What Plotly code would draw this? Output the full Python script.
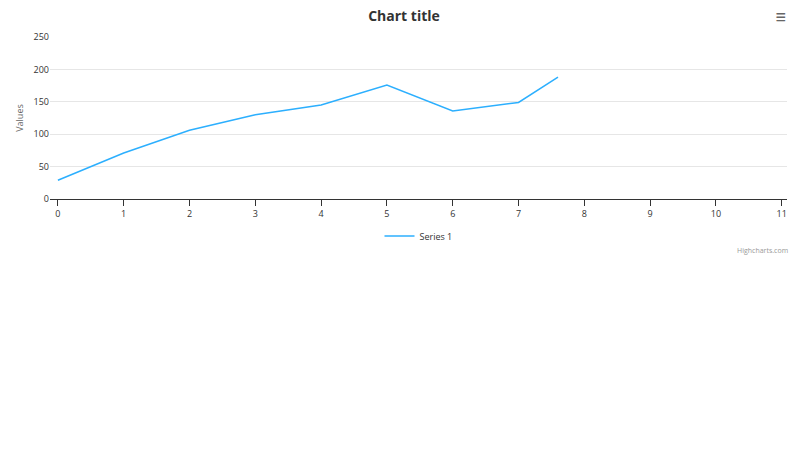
import plotly.graph_objects as go

x_vals = [0, 1, 2, 3, 4, 5, 6, 7, 7.6]
y_vals = [29, 71, 106, 130, 145, 176, 136, 149, 188]
x_ticks = list(range(0, 12))
y_ticks = [0, 50, 100, 150, 200, 250]

# page has 8px body margin; figure origin at (8,8)
fig = go.Figure()
fig.add_trace(go.Scatter(x=x_vals, y=y_vals, mode="lines", name="Series 1",
                         line=dict(color="#2caffe", width=1.5)))
fig.update_layout(
    width=792, height=442, paper_bgcolor="white", plot_bgcolor="white",
    margin=dict(l=42, r=13, t=29, b=251),
    font=dict(family="Open Sans, Lato, sans-serif", size=10, color="#333"),
    title=dict(text="<b>Chart title</b>", x=0.5, xanchor="center", y=1-8/442, yanchor="middle",
               font=dict(size=14, color="#333")),
    showlegend=True,
    legend=dict(orientation="h", x=0.5, xanchor="center", y=(199-236)/162, yanchor="middle",
                font=dict(size=9, color="#333")),
    xaxis=dict(range=[-0.12, 11.08], tickvals=x_ticks, showgrid=False, zeroline=False,
               showline=True, linecolor="#333", linewidth=1, ticks="outside", ticklen=6,
               tickcolor="#333", tickfont=dict(size=9, color="#333")),
    yaxis=dict(range=[0, 250], tickvals=y_ticks, showgrid=True, gridcolor="#e6e6e6",
               zeroline=False, tickfont=dict(size=9, color="#333"),
               title=dict(text="Values", font=dict(size=9, color="#666"), standoff=8)),
    annotations=[
        dict(text="Highcharts.com", x=(790-50)/737, y=(199-250)/162, xref="paper", yref="paper",
             showarrow=False, font=dict(size=7, color="#999"), xanchor="right", yanchor="middle"),
        dict(text="≡", x=(781-50)/737, y=(199-17)/162, xref="paper", yref="paper", showarrow=False,
             font=dict(size=20, color="#666"), xanchor="center", yanchor="middle"),
    ],
)
fig.write_html("out.html")
